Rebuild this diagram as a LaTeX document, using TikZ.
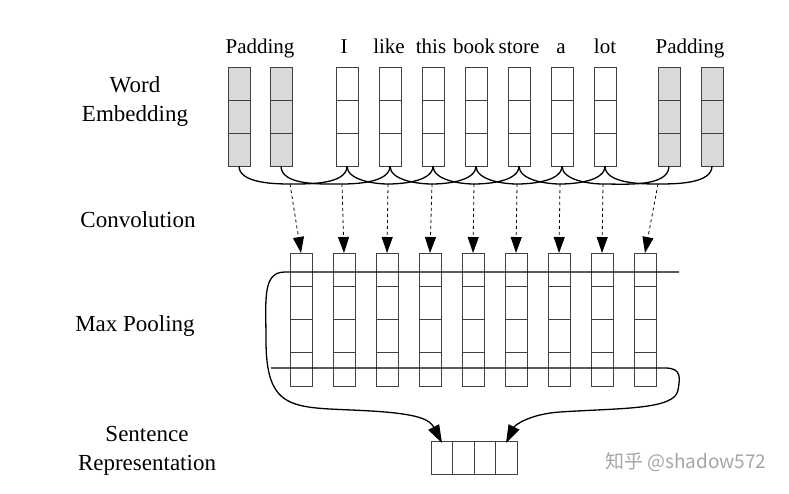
\documentclass[tikz,border=0pt]{standalone}
\usepackage{fontspec}
\setmainfont{Liberation Serif}
\newfontfamily\cjk{Noto Sans CJK SC}
\usetikzlibrary{arrows.meta}
\begin{document}
\begin{tikzpicture}[x=1pt,y=-1pt,
  cell/.style={draw=black!75,line width=0.8pt},
  lbl/.style={font=\fontsize{23}{29}\selectfont,align=center},
  wlbl/.style={font=\fontsize{21}{25}\selectfont,anchor=base},
  ln/.style={line width=1.3pt},
  dashar/.style={dashed,line width=0.8pt,-{Triangle[length=16pt,width=11pt]}},
  bigar/.style={line width=1.3pt,-{Triangle[length=18pt,width=12pt]}}]
\useasboundingbox (0,0) rectangle (789,494);
% labels
\node[lbl] (we) at (135,102) {Word\\Embedding};
\node[lbl] (cv) at (138,220) {Convolution};
\node[lbl] (mp) at (135,326) {Max Pooling};
\node[lbl] (sr) at (147,451) {Sentence\\Representation};
% embedding columns
\foreach \x/\f [count=\i] in {228/gray!30,270/gray!30,336/white,379/white,422/white,465/white,508/white,551/white,594/white,658/gray!30,701/gray!30}{
  \foreach \r in {0,1,2}{\filldraw[cell,fill=\f] (\x,67+33*\r) rectangle ++(22,33);}
  \coordinate (e\i) at (\x+11,166);
}
\node[wlbl] (w0) at (260,54) {Padding};
\node[wlbl] (w1) at (344,54) {I};
\node[wlbl] (w2) at (389,54) {like};
\node[wlbl] (w3) at (431,54) {this};
\node[wlbl] (w4) at (474,54) {book};
\node[wlbl] (w5) at (519,54) {store};
\node[wlbl] (w6) at (561,54) {a};
\node[wlbl] (w7) at (605,54) {lot};
\node[wlbl] (w8) at (690,54) {Padding};
% conv columns
\foreach \x [count=\j] in {290,333,376,419,462,505,548,591,634}{
  \foreach \r in {0,1,2,3}{\draw[cell] (\x,253+33.25*\r) rectangle ++(22,33.25);}
  \coordinate (c\j) at (\x+11,253);
}
% tails
\foreach \x [count=\j] in {290,342,388,432,474,517,560,603,658}{\coordinate (t\j) at (\x,184);}
\foreach \j [evaluate=\j as \k using int(\j+2)] in {1,...,9}{
  \draw[ln] (e\j) to[out=-90,in=180,looseness=0.8] (t\j);
  \draw[ln] (e\k) to[out=-90,in=0,looseness=0.8] (t\j);
  \draw[dashar] (t\j) -- (c\j);
}
% pooling lines
\coordinate (pa) at (679,272);
\coordinate (pb) at (271,368);
\node[cell] (s) at (474,458) [minimum width=86pt,minimum height=33pt,inner sep=0pt] {};
\foreach \i in {1,2,3}{\draw[cell] (431+21.5*\i,441.5) -- ++(0,33);}
\draw[bigar] (pa) -- (285,272) .. controls (262,272) and (266,300) .. (266,340)
  .. controls (266,420) and (300,405) .. (385,412) .. controls (420,415) and (430,420) .. (442,443);
\draw[bigar] (pb) -- (665,368) .. controls (682,368) and (680,378) .. (678,390)
  .. controls (675,410) and (620,408) .. (560,412) .. controls (530,414) and (515,425) .. (506,443);
% watermark
\node[font=\cjk\fontsize{19}{21}\selectfont,text=black!35,anchor=east] (wm) at (770,462) {知乎 @shadow572};
\end{tikzpicture}
\end{document}
